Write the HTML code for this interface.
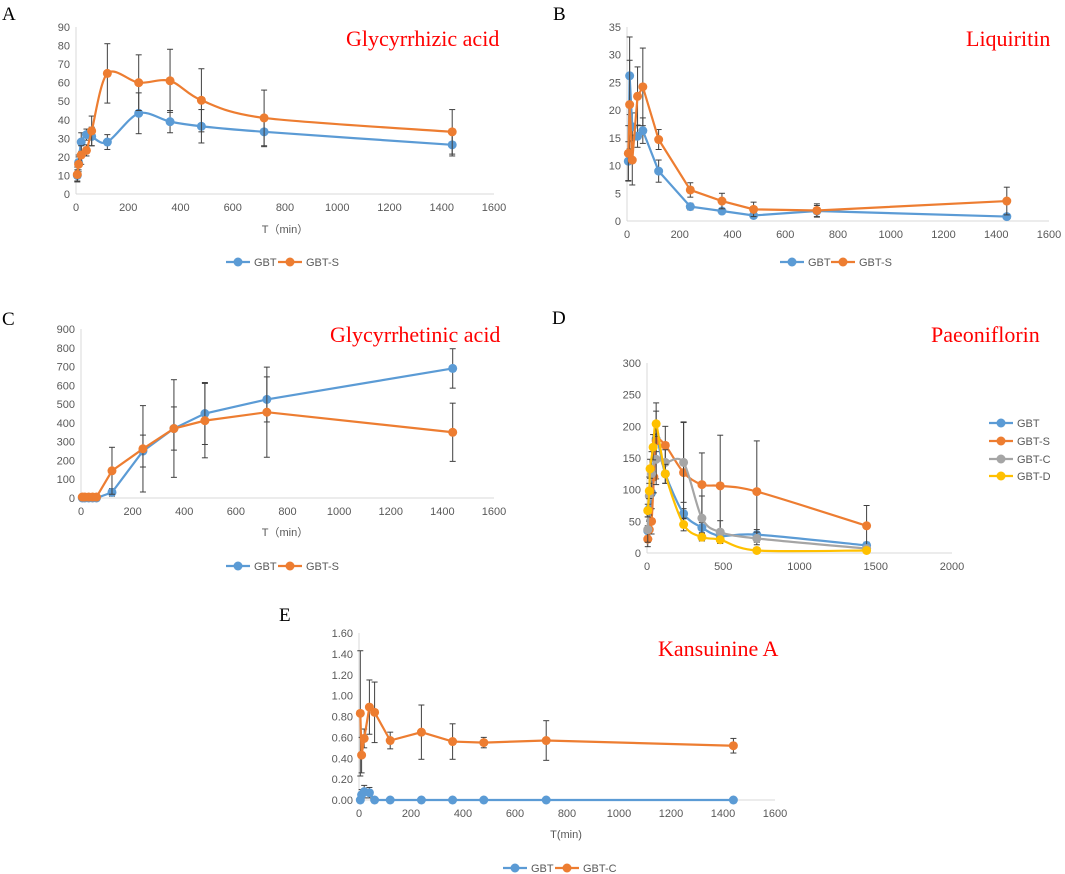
<!DOCTYPE html>
<html><head><meta charset="utf-8"><style>
html,body{margin:0;padding:0;background:#fff}
svg{display:block}
text{font-family:"Liberation Sans","DejaVu Sans",sans-serif}
.t{fill:#595959;font-size:11px}
.ttl{font-family:"Liberation Serif",serif;fill:#ff0000;font-size:22px}
.lab{font-family:"Liberation Serif",serif;fill:#000;font-size:19px}
</style></head><body>
<svg id="s" width="1065" height="874" xmlns="http://www.w3.org/2000/svg">
<text class="lab" x="2" y="20">A</text>
<text class="lab" x="553" y="20">B</text>
<text class="lab" x="2" y="325">C</text>
<text class="lab" x="552" y="324">D</text>
<text class="lab" x="279" y="621">E</text>
<text class="ttl" x="346" y="46">Glycyrrhizic acid</text>
<text class="ttl" x="966" y="46">Liquiritin</text>
<text class="ttl" x="330" y="342">Glycyrrhetinic acid</text>
<text class="ttl" x="931" y="342">Paeoniflorin</text>
<text class="ttl" x="658" y="656">Kansuinine A</text>
</svg>
<script>
const S=document.getElementById('s');const NS='http://www.w3.org/2000/svg';
function el(n,a,t){const e=document.createElementNS(NS,n);for(const k in a)e.setAttribute(k,a[k]);if(t!=null)e.textContent=t;S.appendChild(e);return e;}
const C={b:'#5b9bd5',o:'#ed7d31',g:'#a5a5a5',y:'#ffc000'};
function smooth(p){let d='M'+p[0][0]+','+p[0][1];for(let i=0;i<p.length-1;i++){const p0=p[i-1]||p[i],p1=p[i],p2=p[i+1],p3=p[i+2]||p2;const k=0.15;
d+=' C'+(p1[0]+(p2[0]-p0[0])*k)+','+(p1[1]+(p2[1]-p0[1])*k)+' '+(p2[0]-(p3[0]-p1[0])*k)+','+(p2[1]-(p3[1]-p1[1])*k)+' '+p2[0]+','+p2[1];}return d;}
function chart(o){
 const X=v=>o.x0+(o.x1-o.x0)*v/o.xmax, Y=v=>o.y0-(o.y0-o.y1)*v/o.ymax;
 el('line',{x1:o.x0,y1:o.y0,x2:o.x1,y2:o.y0,stroke:'#d9d9d9','stroke-width':1});
 el('line',{x1:o.x0,y1:o.y0,x2:o.x0,y2:o.y1,stroke:'#d9d9d9','stroke-width':1});
 for(let v=0;v<=o.ymax+1e-9;v+=o.ystep){el('text',{class:'t',x:o.x0-6,y:Y(v)+4,'text-anchor':'end'},o.fmt?v.toFixed(2):Math.round(v));}
 for(let v=0;v<=o.xmax;v+=o.xstep){el('text',{class:'t',x:X(v),y:o.y0+17,'text-anchor':'middle'},v);}
 if(o.xl)el('text',{class:'t',x:o.xlx,y:o.xly,'text-anchor':'middle','font-size':12},o.xl);
 o.series.forEach(s=>{
  const pts=s.d.map(q=>[X(q[0]),Y(q[1])]);
  s.d.forEach((q,i)=>{if(q[2]){const x=pts[i][0];const a=Y(q[1]+q[2]),b=Y(Math.max(q[1]-q[2],0));
   el('line',{x1:x,y1:a,x2:x,y2:b,stroke:'#404040','stroke-width':1});
   el('line',{x1:x-3,y1:a,x2:x+3,y2:a,stroke:'#404040','stroke-width':1});
   el('line',{x1:x-3,y1:b,x2:x+3,y2:b,stroke:'#404040','stroke-width':1});}});
  el('path',{d:o.smooth?smooth(pts):'M'+pts.map(p=>p.join(',')).join(' L'),fill:'none',stroke:C[s.c],'stroke-width':2.2});
  pts.forEach(p=>el('circle',{cx:p[0],cy:p[1],r:4.5,fill:C[s.c]}));
 });
 o.leg.forEach(l=>{el('line',{x1:l[0]-12,y1:l[1],x2:l[0]+12,y2:l[1],stroke:C[l[2]],'stroke-width':2.2});
  el('circle',{cx:l[0],cy:l[1],r:4.5,fill:C[l[2]]});el('text',{class:'t',x:l[0]+16,y:l[1]+4},l[3]);});
}
chart({x0:76,x1:494,y0:194,y1:27,xmax:1600,ymax:90,xstep:200,ystep:10,smooth:1,xl:'T（min）',xlx:285,xly:233,
 series:[{c:'b',d:[[5,10,3],[10,17,4],[20,28,5],[40,32,3],[60,31,5],[120,28,4],[240,43.5,11],[360,39,6],[480,36.5,9],[720,33.5,8],[1440,26.5,6]]},
 {c:'o',d:[[5,10.5,4],[10,16,4],[20,21,5],[40,23.5,3],[60,34,8],[120,65,16],[240,60,15],[360,61,17],[480,50.5,17],[720,41,15],[1440,33.5,12]]}],
 leg:[[238,262,'b','GBT'],[290,262,'o','GBT-S']]});
chart({x0:627,x1:1049,y0:221,y1:27,xmax:1600,ymax:35,xstep:200,ystep:5,smooth:0,
 series:[{c:'b',d:[[5,10.8,3.5],[10,26.2,7],[20,17,2.5],[40,15.3,2],[60,16.3,2.3],[120,9,2],[240,2.6,0.6],[360,1.8,0.4],[480,1,0.3],[720,1.8,1],[1440,0.8,0.3]]},
 {c:'o',d:[[5,12.2,5],[10,21,8],[20,11,4.5],[40,22.5,5.3],[60,24.2,7],[120,14.7,1.8],[240,5.6,1.3],[360,3.6,1.4],[480,2.1,1.3],[720,1.9,1.2],[1440,3.6,2.5]]}],
 leg:[[792,262,'b','GBT'],[843,262,'o','GBT-S']]});
chart({x0:81,x1:494,y0:498,y1:329,xmax:1600,ymax:900,xstep:200,ystep:100,smooth:0,xl:'T（min）',xlx:285,xly:536,
 series:[{c:'b',d:[[5,0],[15,0],[30,0],[45,0],[60,0],[120,30,20],[240,250,85],[360,370,115],[480,450,165],[720,525,120],[1440,690,105]]},
 {c:'o',d:[[5,5],[15,5],[30,5],[45,5],[60,5],[120,145,125],[240,262,230],[360,370,260],[480,412,198],[720,457,240],[1440,350,155]]}],
 leg:[[238,566,'b','GBT'],[290,566,'o','GBT-S']]});
chart({x0:647,x1:952,y0:553,y1:363,xmax:2000,ymax:300,xstep:500,ystep:50,smooth:1,
 series:[{c:'b',d:[[5,35,8],[15,70,20],[30,95,25],[60,180,20],[120,125,15],[240,62,8],[360,40,8],[480,27,5],[720,29,8],[1440,12,5]]},
 {c:'o',d:[[5,22,12],[15,37,15],[30,50,20],[45,120,25],[60,177,60],[120,170,30],[240,127,80],[360,108,50],[480,106,80],[720,97,80],[1440,43,32]]},
 {c:'g',d:[[5,37,20],[15,90,30],[30,125,35],[60,148,40],[120,143,20],[240,143,63],[360,55,35],[480,33,18],[720,23,10],[1440,7,3]]},
 {c:'y',d:[[5,67,10],[15,98,12],[20,133,15],[40,167,20],[60,204,20],[120,125,15],[240,45,10],[360,25,6],[480,21,4],[720,4,2],[1440,4,2]]}],
 leg:[[1001,423,'b','GBT'],[1001,441,'o','GBT-S'],[1001,459,'g','GBT-C'],[1001,476,'y','GBT-D']]});
chart({x0:359,x1:775,y0:800,y1:633,xmax:1600,ymax:1.6,xstep:200,ystep:0.2,fmt:1,smooth:0,xl:'T(min)',xlx:566,xly:838,
 series:[{c:'o',d:[[5,0.83,0.6],[10,0.43,0.17],[20,0.59,0.09],[40,0.89,0.26],[60,0.84,0.29],[120,0.57,0.08],[240,0.65,0.26],[360,0.56,0.17],[480,0.55,0.05],[720,0.57,0.19],[1440,0.52,0.07]]},
 {c:'b',d:[[5,0],[10,0.05,0.05],[20,0.08,0.06],[40,0.07,0.05],[60,0],[120,0],[240,0],[360,0],[480,0],[720,0],[1440,0]]}],
 leg:[[515,868,'b','GBT'],[567,868,'o','GBT-C']]});
</script>
</body></html>
